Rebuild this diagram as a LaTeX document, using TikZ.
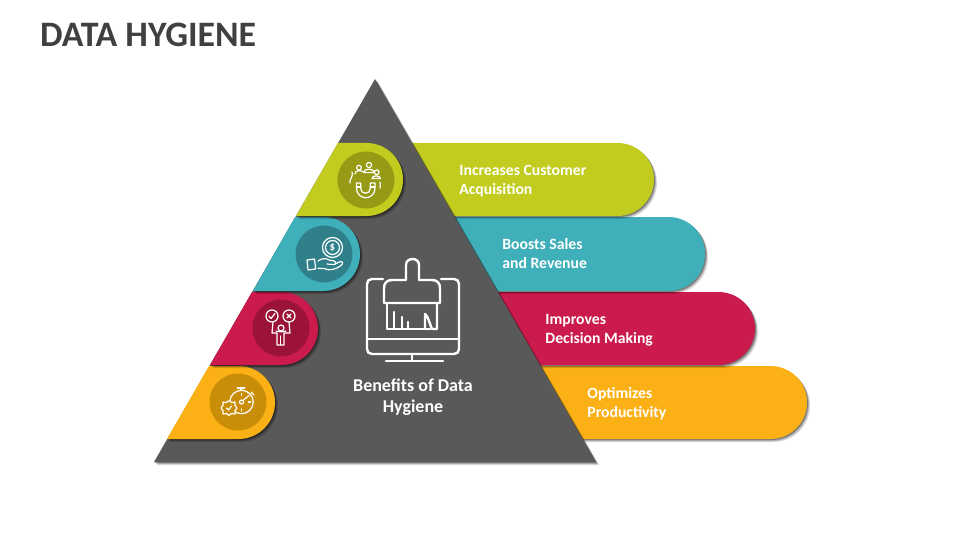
\documentclass[tikz,border=0pt]{standalone}
\usepackage{fontspec}
\setmainfont{Carlito}
\usetikzlibrary{positioning,shadows}
\definecolor{slate}{HTML}{595959}
\definecolor{titlegray}{HTML}{404040}
\definecolor{olive}{HTML}{C2CC1E}
\definecolor{oliveb}{HTML}{969A14}
\definecolor{teal2}{HTML}{3FB0BA}
\definecolor{tealb}{HTML}{2F808A}
\definecolor{crimson}{HTML}{CB1A4C}
\definecolor{crimsonb}{HTML}{9B1337}
\definecolor{amber}{HTML}{FBB116}
\definecolor{amberb}{HTML}{C98D07}
\tikzset{
  softshadow/.style={
    drop shadow={shadow xshift=3pt,shadow yshift=-3pt,opacity=.15,fill=black},
    drop shadow={shadow xshift=2pt,shadow yshift=-2pt,opacity=.20,fill=black},
    drop shadow={shadow xshift=1pt,shadow yshift=-1pt,opacity=.30,fill=black}},
  badge/.style={circle,minimum size=57pt,inner sep=0pt},
  bandtext/.style={text=white,align=left,inner sep=0pt,font=\fontsize{15.7}{19}\selectfont\bfseries},
  iconline/.style={draw=white,line width=1.2pt,line cap=round,line join=round},
  bigline/.style={draw=white,line width=2.4pt,line cap=round,line join=round},
}
\begin{document}
\begin{tikzpicture}[x=1pt,y=-1pt]
\useasboundingbox (0,0) rectangle (960,540);
\node [anchor=west,inner sep=0pt,text=titlegray,font=\fontsize{35.8}{40}\selectfont\bfseries] (title) at (40,35) {DATA HYGIENE};
%----------------------------------
\fill [amber,softshadow,rounded corners=36.5pt] (480,366) rectangle (807,439);
\fill [crimson,softshadow,rounded corners=36.5pt] (440,292) rectangle (755,365);
\fill [teal2,softshadow,rounded corners=36.5pt] (400,217) rectangle (705,291);
\fill [olive,softshadow,rounded corners=36.5pt] (370,143) rectangle (654,216);
%----------------------------------
\fill [slate,softshadow] (375,79) -- (596,462) -- (154,462) -- cycle;
%----------------------------------
\fill [amber,softshadow] (209,366) -- (238.5,366) arc[start angle=-90,end angle=90,radius=36.5] -- (167,439) -- cycle;
\fill [crimson,softshadow] (252,292) -- (281.5,292) arc[start angle=-90,end angle=90,radius=36.5] -- (210,365) -- cycle;
\fill [teal2,softshadow] (295,217) -- (323,217) arc[start angle=-90,end angle=90,radius=37] -- (253,291) -- cycle;
\fill [olive,softshadow] (338,143) -- (366.5,143) arc[start angle=-90,end angle=90,radius=36.5] -- (296,216) -- cycle;
%----------------------------------
\node [badge,fill=oliveb] (c1) at (366,180) {};
\node [badge,fill=tealb] (c2) at (324,254) {};
\node [badge,fill=crimsonb] (c3) at (281,328) {};
\node [badge,fill=amberb] (c4) at (238,402) {};
%----------------------------------
\node [bandtext,right=64.5pt of c1,yshift=-1pt] (t1) {Increases Customer\\Acquisition};
\node [bandtext,right=149.5pt of c2] (t2) {Boosts Sales\\and Revenue};
\node [bandtext,right=235.5pt of c3,yshift=-2pt] (t3) {Improves\\Decision Making};
\node [bandtext,right=320.5pt of c4,yshift=-2pt] (t4) {Optimizes\\Productivity};
\node [text=white,align=center,inner sep=0pt,font=\fontsize{18}{21}\selectfont\bfseries] (caption) at (413,397) {Benefits of Data\\Hygiene};
%---------------------------------- magnet and people
\draw [iconline] (356.5,183) -- (356.5,188.5) arc[start angle=180,end angle=0,radius=9.25] -- (375,183) -- (370.3,183) -- (370.3,188.5) arc[start angle=0,end angle=180,radius=4.8] -- (360.7,183) -- cycle;
\draw [iconline] (356.5,187) -- (360.7,187) (370.3,187) -- (375,187);
\draw [iconline] (369,165) circle (2.6);
\draw [iconline] (359,167.7) circle (2.4);
\draw [iconline] (376.7,172.3) circle (2.4);
\draw [iconline] (363.5,172.5) .. controls (364,168) and (374,168) .. (374.5,172.5) -- cycle;
\draw [iconline] (355,174) .. controls (355,170.5) and (360,170) .. (362.5,171.5);
\draw [iconline] (372,178.5) .. controls (372,175) and (380,175) .. (380.5,178.5) -- cycle;
\draw [iconline] (352,172) .. controls (354,176) and (349,179) .. (350,183);
\draw [iconline] (380,182) .. controls (382,184) and (379,186) .. (380,188);
%---------------------------------- coin and hand
\draw [iconline] (332.5,247.5) circle (10);
\draw [iconline] (332.5,247.5) circle (7);
\node [text=white,inner sep=0pt,font=\fontsize{11}{11}\selectfont\bfseries] (dollar) at (332.5,247.5) {\$};
\draw [iconline] (307,260) -- (314.5,259) -- (315.7,269) -- (308,270) -- cycle;
\draw [iconline] (318,261) .. controls (322,258) and (326,258) .. (329,260) -- (334,261) .. controls (337,262) and (336,265) .. (333,264.5) -- (327,264);
\draw [iconline] (335,264) -- (340.5,261.5) .. controls (343,261) and (343.5,263) .. (342,264.5) .. controls (336,270) and (329,271) .. (324,268.5) -- (318,268.3);
%---------------------------------- person with two signs
\draw [iconline] (272,316) circle (6);
\draw [iconline] (289,316) circle (6);
\draw [iconline] (269,316) -- (271,318.5) -- (275,313.5);
\draw [iconline] (287,314) -- (291,318) (291,314) -- (287,318);
\draw [iconline] (281,328) circle (3);
\draw [iconline] (273,322) -- (272,333) -- (277,333) -- (277,345) -- (284,345) -- (284,333) -- (290,333) -- (289,322);
\draw [iconline] (276,331) .. controls (278,332) and (284,332) .. (286,331);
\draw [iconline] (280.5,336) -- (280.5,345);
%---------------------------------- stopwatch and gear
\draw [iconline] (241.5,402) circle (11.7);
\draw [iconline] (237.3,388) -- (244.7,388) (241,388) -- (241,390);
\draw [iconline] (251,392) -- (254,395);
\draw [iconline] (241.5,402) circle (2);
\draw [iconline] (243,400.5) -- (249,395.5);
\draw [iconline] (241.5,393.5) -- (241.5,395.5) (250.5,402) -- (248.5,402) (241.5,411) -- (241.5,409);
\draw [iconline,fill=amberb] (229,400.5) -- (231.5,402.5) -- (235,402) -- (235,405.5) -- (237,408) -- (235,410.5) -- (235,414) -- (231.5,413.5) -- (229,415.5) -- (226.5,413.5) -- (223,414) -- (223,410.5) -- (221,408) -- (223,405.5) -- (223,402) -- (226.5,402.5) -- cycle;
\draw [iconline] (226.5,408) -- (228.5,410) -- (231.5,406);
%---------------------------------- monitor and brush
\draw [bigline] (383,279) -- (372,279) .. controls (369,279) and (367,281) .. (367,284) -- (367,349) .. controls (367,352) and (369,354) .. (372,354) -- (454,354) .. controls (457,354) and (459,352) .. (459,349) -- (459,284) .. controls (459,281) and (457,279) .. (454,279) -- (441,279);
\draw [bigline] (367,339) -- (459,339);
\draw [bigline] (412,354) -- (412,361) (386,361) -- (443,361);
\draw [bigline] (406,280) -- (406,265) .. controls (406,257) and (419,257) .. (419,265) -- (419,280) -- (432,280) .. controls (437,280) and (440,283) .. (440,288) -- (440,303) -- (384,303) -- (384,288) .. controls (384,283) and (387,280) .. (392,280) -- (406,280);
\draw [bigline] (387,303) -- (387,329) -- (430,329);
\draw [bigline] (437,303) -- (437,329) -- (432,329) .. controls (429,322) and (428,316) .. (425,314) -- (425,329);
\draw [bigline] (394,312) -- (394,329) (402,317) -- (402,329) (408,322) -- (408,329);
\end{tikzpicture}
\end{document}
